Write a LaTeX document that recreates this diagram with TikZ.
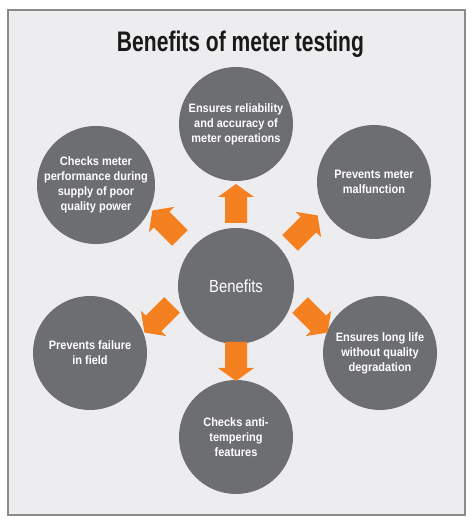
\documentclass[tikz,border=0pt]{standalone}
\usepackage{fontspec}
\usepackage{graphicx}
\setmainfont{Liberation Sans}
\newfontfamily\circfont[FakeStretch=0.9]{Liberation Sans}
\newfontfamily\benfont[FakeStretch=0.85]{Liberation Sans}
\definecolor{circgray}{RGB}{109,110,113}
\definecolor{arrorange}{RGB}{245,128,32}
\definecolor{bggray}{RGB}{237,236,238}
\definecolor{framegray}{RGB}{138,138,138}
\begin{document}
\begin{tikzpicture}[x=1pt,y=1pt,
  bubble/.style={circle, fill=circgray, minimum size=114pt, inner sep=0pt,
    text=white, align=center, font=\circfont\bfseries\fontsize{12.2}{15}\selectfont},
  hub/.style={circle, fill=circgray, minimum size=116pt, inner sep=0pt,
    text=white, font=\benfont\fontsize{17.5}{20}\selectfont},
  blockarrow/.pic={\fill[arrorange] (0,-11) -- (26,-11) -- (26,-18) -- (39,0)
    -- (26,18) -- (26,11) -- (0,11) -- cycle;}]
\useasboundingbox (0,0) rectangle (474,526);
\fill[white] (0,0) rectangle (474,526);
\draw[framegray, line width=1.3pt, fill=bggray] (8,11) rectangle (465,516);
\node[anchor=base, text=black!90] (title) at (240.5,474)
  {\resizebox{247pt}{20.5pt}{\bfseries Benefits of meter testing}};
\node[hub] (c) at (236,240) {Benefits};
\node[bubble] (t) at (236,402) {Ensures reliability\\and accuracy of\\meter operations};
\node[bubble] (ul) at (96,341) {Checks meter\\performance during\\supply of poor\\quality power};
\node[bubble] (ur) at (374,344) {Prevents meter\\malfunction};
\node[bubble] (ll) at (90,173) {Prevents failure\\in field};
\node[bubble] (lr) at (380,173) {Ensures long life\\without quality\\degradation};
\node[bubble] (b) at (236,89) {Checks anti-\\tempering\\features};
\coordinate (at) at (236,303);
\coordinate (ab) at (236,184);
\coordinate (aul) at (180,288);
\coordinate (aur) at (290,283);
\coordinate (all) at (172,221);
\coordinate (alr) at (300,221);
\pic[rotate=90] at (at) {blockarrow};
\pic[rotate=-90] at (ab) {blockarrow};
\pic[rotate=135] at (aul) {blockarrow};
\pic[rotate=45] at (aur) {blockarrow};
\pic[rotate=225] at (all) {blockarrow};
\pic[rotate=-45] at (alr) {blockarrow};
\end{tikzpicture}
\end{document}
